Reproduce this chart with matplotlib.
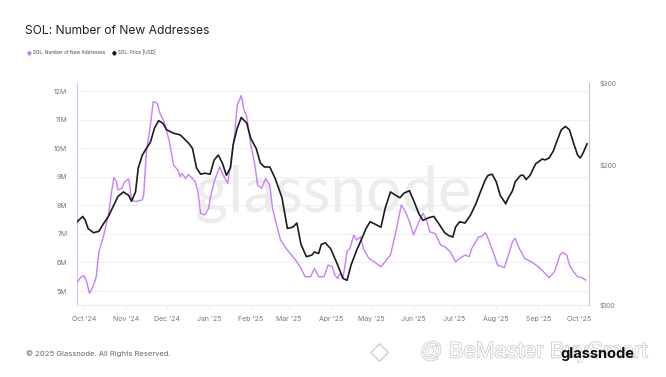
import matplotlib
matplotlib.use("Agg")
import matplotlib.pyplot as plt
import matplotlib.dates as mdates
import matplotlib.ticker as mticker
import matplotlib.patheffects as pe
import pandas as pd

# ---- data ----
addr_dates = ["2024-09-26","2024-09-29","2024-10-01","2024-10-03","2024-10-05","2024-10-07","2024-10-09","2024-10-10",
    "2024-10-12","2024-10-15","2024-10-19","2024-10-21","2024-10-23","2024-10-25","2024-10-26","2024-10-29","2024-10-31",
    "2024-11-03","2024-11-04","2024-11-05","2024-11-08","2024-11-13","2024-11-14","2024-11-16","2024-11-19","2024-11-21",
    "2024-11-24","2024-11-26","2024-11-29","2024-12-03","2024-12-06","2024-12-09","2024-12-11","2024-12-12","2024-12-15",
    "2024-12-17","2024-12-20","2024-12-22","2024-12-24","2024-12-26","2024-12-29","2025-01-01","2025-01-02","2025-01-05",
    "2025-01-09","2025-01-11","2025-01-15","2025-01-17","2025-01-20","2025-01-22","2025-01-25","2025-01-27","2025-01-29",
    "2025-02-01","2025-02-04","2025-02-06","2025-02-09","2025-02-12","2025-02-15","2025-02-17","2025-02-20","2025-02-23",
    "2025-02-27","2025-03-03","2025-03-07","2025-03-10","2025-03-13","2025-03-17","2025-03-20","2025-03-23","2025-03-27",
    "2025-03-30","2025-04-02","2025-04-04","2025-04-06","2025-04-08","2025-04-10","2025-04-13","2025-04-15","2025-04-18",
    "2025-04-20","2025-04-23","2025-04-25","2025-04-29","2025-05-03","2025-05-08","2025-05-11","2025-05-15","2025-05-19",
    "2025-05-21","2025-05-23","2025-05-26","2025-05-29","2025-06-01","2025-06-04","2025-06-06","2025-06-08","2025-06-11",
    "2025-06-13","2025-06-17","2025-06-21","2025-06-24","2025-06-28","2025-07-02","2025-07-05","2025-07-09","2025-07-12",
    "2025-07-14","2025-07-19","2025-07-21","2025-07-24","2025-07-26","2025-07-30","2025-08-02","2025-08-07","2025-08-10",
    "2025-08-13","2025-08-15","2025-08-18","2025-08-22","2025-08-27","2025-09-01","2025-09-06","2025-09-09","2025-09-13",
    "2025-09-17","2025-09-19","2025-09-22","2025-09-24","2025-09-27","2025-09-30","2025-10-03","2025-10-06"]
new_addresses_m = [5.32,5.50,5.53,5.32,4.92,5.10,5.33,5.50,
    6.38,6.85,7.66,8.36,8.97,8.83,8.54,8.60,8.83,
    8.92,8.60,8.19,8.13,8.19,8.36,9.88,10.81,11.63,
    11.57,11.22,10.93,10.23,9.41,9.24,9.00,9.12,8.94,
    9.08,8.94,8.83,8.48,7.72,7.66,7.90,8.24,8.83,
    9.35,9.12,8.77,9.41,10.46,11.51,11.84,11.33,11.10,
    10.11,9.41,8.71,8.60,8.94,8.71,7.90,7.31,6.78,
    6.49,6.26,6.02,5.79,5.50,5.50,5.79,5.50,5.50,
    5.91,5.85,5.56,5.44,5.62,5.44,6.38,6.49,6.96,
    6.78,6.90,6.49,6.14,6.02,5.85,6.02,6.26,7.07,
    7.54,8.01,7.78,7.43,6.96,7.31,7.54,7.72,7.43,
    7.07,7.01,6.61,6.55,6.38,6.02,6.14,6.26,6.20,
    6.49,6.90,6.90,7.04,6.84,6.32,5.91,5.82,6.26,
    6.73,6.84,6.49,6.14,6.02,5.85,5.62,5.47,5.68,
    6.26,6.35,6.26,5.91,5.68,5.50,5.47,5.38]

price_dates = ["2024-09-26","2024-09-30","2024-10-02","2024-10-04","2024-10-08","2024-10-12","2024-10-15","2024-10-19",
    "2024-10-23","2024-10-26","2024-10-30","2024-11-03","2024-11-05","2024-11-08","2024-11-10","2024-11-13","2024-11-16",
    "2024-11-19","2024-11-22","2024-11-25","2024-11-28","2024-12-01","2024-12-06","2024-12-11","2024-12-17","2024-12-20",
    "2024-12-23","2024-12-26","2024-12-29","2025-01-02","2025-01-05","2025-01-08","2025-01-11","2025-01-14","2025-01-17",
    "2025-01-19","2025-01-22","2025-01-25","2025-01-29","2025-02-01","2025-02-05","2025-02-08","2025-02-11","2025-02-15",
    "2025-02-19","2025-02-24","2025-02-28","2025-03-04","2025-03-07","2025-03-10","2025-03-14","2025-03-18","2025-03-20",
    "2025-03-23","2025-03-25","2025-03-28","2025-04-01","2025-04-05","2025-04-07","2025-04-10","2025-04-13","2025-04-16",
    "2025-04-20","2025-04-23","2025-04-27","2025-04-30","2025-05-04","2025-05-08","2025-05-11","2025-05-15","2025-05-19",
    "2025-05-22","2025-05-25","2025-05-29","2025-06-01","2025-06-05","2025-06-08","2025-06-12","2025-06-16","2025-06-20",
    "2025-06-24","2025-06-27","2025-06-30","2025-07-02","2025-07-05","2025-07-09","2025-07-13","2025-07-17","2025-07-20",
    "2025-07-24","2025-07-26","2025-07-29","2025-08-01","2025-08-04","2025-08-08","2025-08-10","2025-08-13","2025-08-15",
    "2025-08-19","2025-08-21","2025-08-23","2025-08-26","2025-08-30","2025-09-01","2025-09-04","2025-09-06","2025-09-09",
    "2025-09-12","2025-09-15","2025-09-18","2025-09-21","2025-09-24","2025-09-27","2025-09-30","2025-10-02","2025-10-04",
    "2025-10-07"]
price_usd = [151,155,152,146,143,144,149,155,
    164,171,175,172,167,175,197,210,217,
    224,240,249,246,238,234,232,223,217,
    197,191,192,191,205,210,202,190,197,
    221,240,253,246,228,217,202,198,198,
    187,170,146,147,150,135,127,128,130,
    129,135,136,132,124,120,114,113,122,
    131,137,146,151,149,147,161,175,172,
    170,174,176,168,157,152,154,155,149,
    143,141,140,147,151,150,156,165,174,
    186,190,191,184,172,165,170,176,184,
    190,190,186,190,201,203,206,205,207,
    214,226,238,242,238,223,210,207,212,
    222]

left_ticks = [5, 6, 7, 8, 9, 10, 11, 12]
left_labels = ["5M", "6M", "7M", "8M", "9M", "10M", "11M", "12M"]
right_ticks = [100, 200, 300]
right_labels = ["$100", "$200", "$300"]

PURPLE = "#c77dff"
BLACK = "#1c1c1c"
GRAY_TXT = "#777777"

fig = plt.figure(figsize=(6.66, 3.77), dpi=100)
fig.patch.set_facecolor("white")
W, H = 666, 377
ax = fig.add_axes([77 / W, 1 - 305 / H, (589 - 77) / W, (305 - 83) / H])
ax2 = ax.twinx()

ad = pd.to_datetime(addr_dates)
pdt = pd.to_datetime(price_dates)

ax.plot(ad, new_addresses_m, color=PURPLE, lw=1.0, zorder=3)
ax2.plot(pdt, price_usd, color=BLACK, lw=1.2, zorder=4)

# watermark in plot
ax.text(0.5, 0.5, "glassnode", transform=ax.transAxes, ha="center", va="center",
        fontsize=46, color="#ececec", family="Lato", zorder=1)

ax.set_xlim(pd.Timestamp("2024-09-25 20:00"), pd.Timestamp("2025-10-08 10:00"))
ax.set_ylim(4.51, 12.28)
ax.set_yticks(left_ticks)
ax.set_yticklabels(left_labels)
ax.grid(axis="y", color="#f0f0f0", lw=0.8, zorder=0)
ax.set_axisbelow(True)

ax2.set_yscale("log")
ax2.set_ylim(100, 300)
ax2.yaxis.set_major_locator(mticker.FixedLocator(right_ticks))
ax2.yaxis.set_minor_locator(mticker.NullLocator())
ax2.set_yticklabels(right_labels)

ax.xaxis.set_major_locator(mdates.MonthLocator())
ax.xaxis.set_major_formatter(mdates.DateFormatter("%b '%y"))

for a in (ax, ax2):
    a.spines["top"].set_visible(False)
    a.set_facecolor("none")
ax.spines["left"].set_color("#dcc0f5")
ax.spines["bottom"].set_color("#ece6f2")
ax.spines["right"].set_visible(False)
ax2.spines["left"].set_visible(False)
ax2.spines["bottom"].set_visible(False)
ax2.spines["right"].set_color("#c8c8c8")

ax.tick_params(axis="y", length=0, pad=7, labelsize=5, labelcolor=GRAY_TXT)
ax.tick_params(axis="x", length=3, color="#eeeeee", pad=5, labelsize=5, labelcolor=GRAY_TXT)
ax2.tick_params(axis="y", length=0, pad=8, labelsize=5, labelcolor=GRAY_TXT)

for lab in ax.get_xticklabels() + ax.get_yticklabels() + ax2.get_yticklabels():
    lab.set_family("Inter")

# title and legend
fig.text(25 / W, 1 - 31 / H, "SOL: Number of New Addresses", fontsize=8.7, family="Inter",
         color="#222222", va="center", ha="left")
fig.text(29 / W, 1 - 53 / H, "\u25CF", fontsize=4, color=PURPLE, va="center", ha="center")
fig.text(33 / W, 1 - 53 / H, "SOL: Number of New Addresses", fontsize=3.4, family="Inter",
         color="#444444", va="center", ha="left")
fig.text(114 / W, 1 - 53 / H, "\u25CF", fontsize=4, color=BLACK, va="center", ha="center")
fig.text(118 / W, 1 - 53 / H, "SOL: Price [USD]", fontsize=3.4, family="Inter",
         color="#444444", va="center", ha="left")

# footer
fig.text(26 / W, 1 - 354 / H, "\u00A9 2025 Glassnode. All Rights Reserved.", fontsize=5.5,
         family="Inter", color="#666666", va="center", ha="left")
# overlay watermark (logo diamond + handle)
fig.text(380 / W, 1 - 352 / H, "\u25C7", fontsize=18, family="DejaVu Sans",
         color="#cccccc", va="center", ha="center")
fig.text(420 / W, 1 - 352 / H, "@ BeMaster BuySmart", fontsize=16, family="Liberation Sans",
         color="white", va="center", ha="left",
         path_effects=[pe.withStroke(linewidth=1.0, foreground="#c4c4c4")])
fig.text(560 / W, 1 - 354 / H, "glassnode", fontsize=10.5, family="Inter", weight="bold",
         color="#111111", va="center", ha="left")

fig.savefig("out.png", dpi=100)
